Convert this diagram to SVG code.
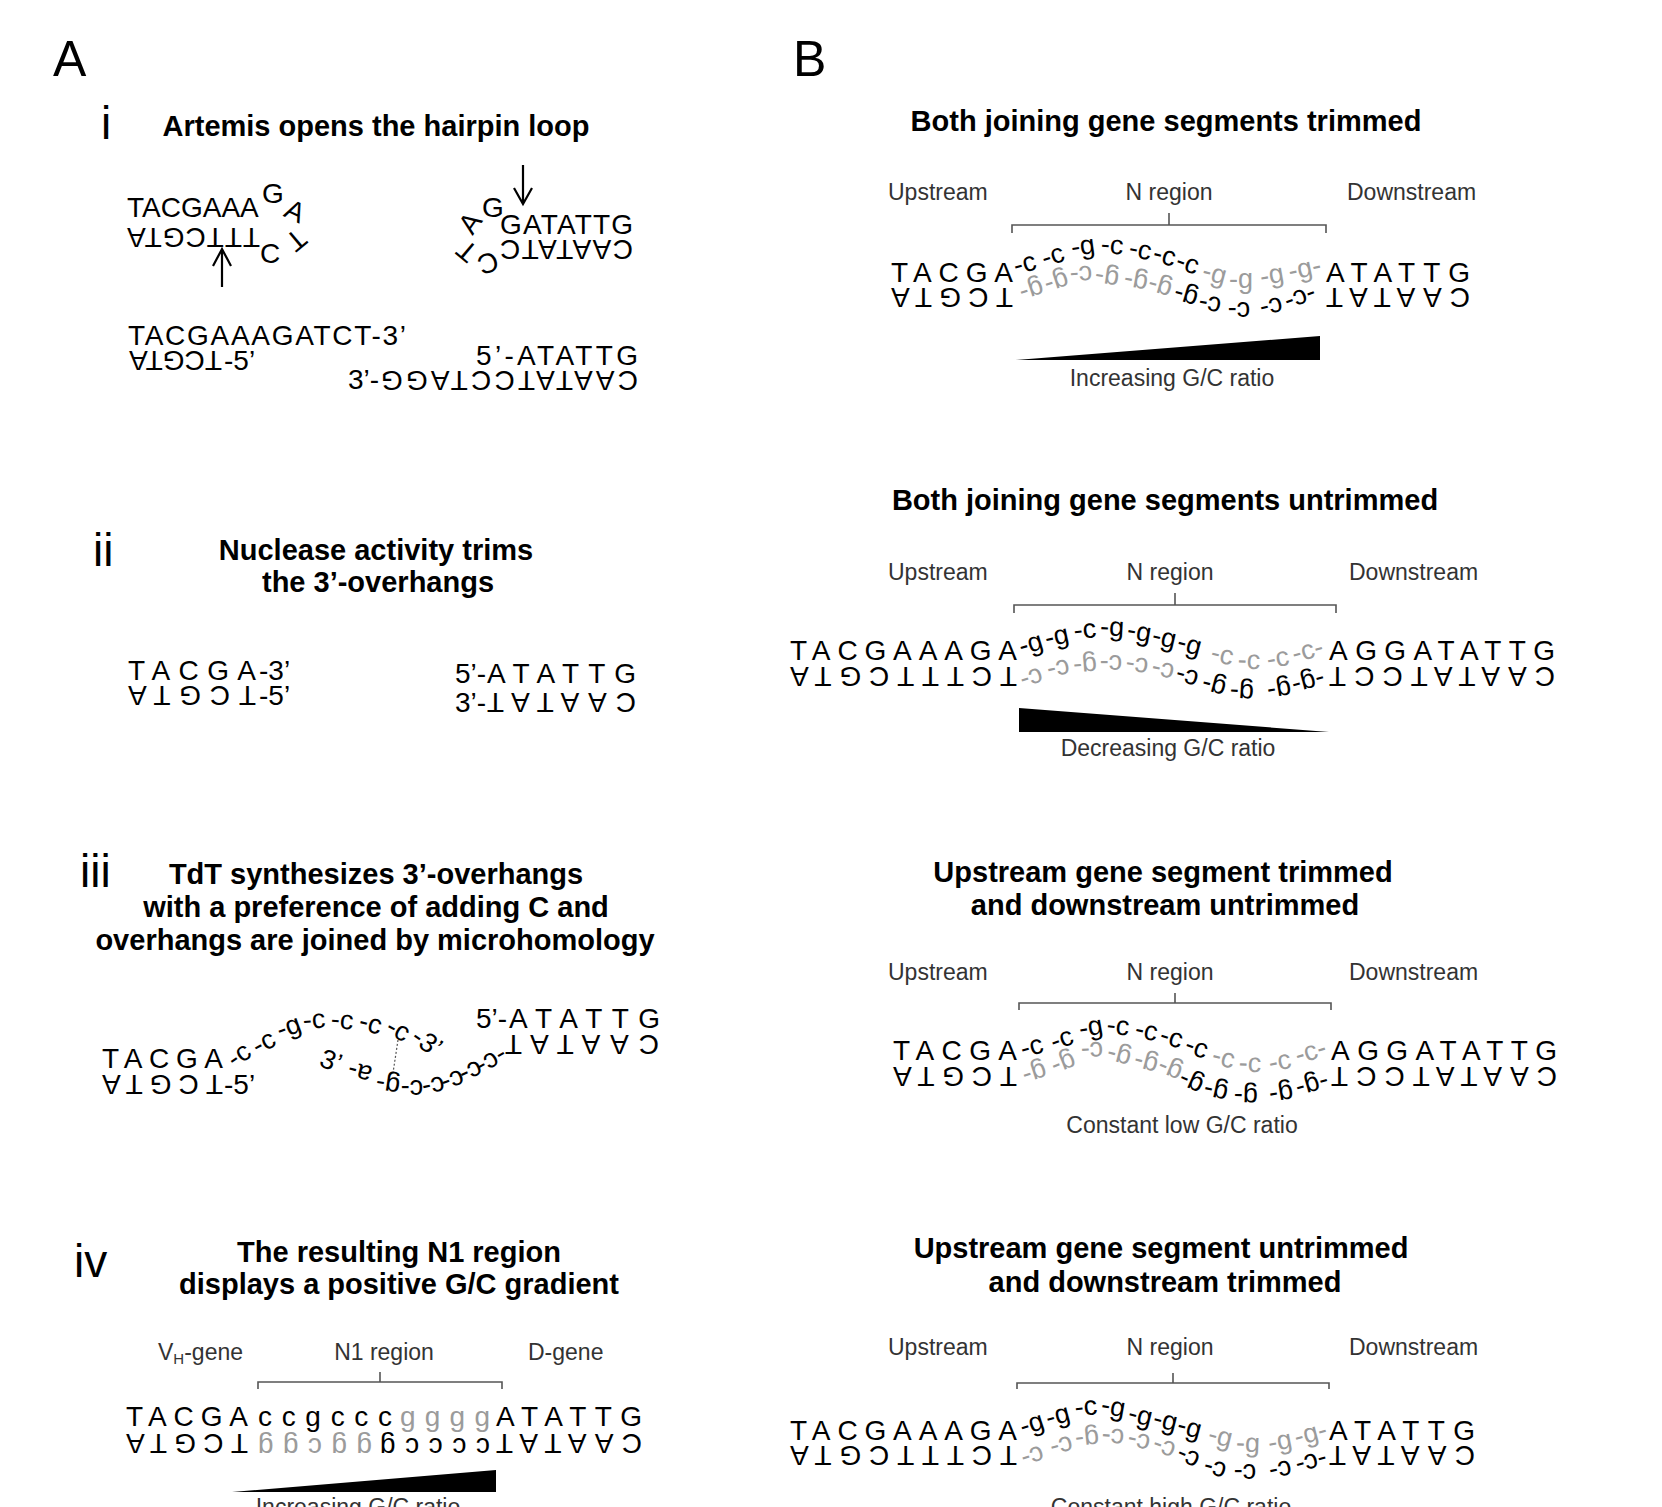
<svg xmlns="http://www.w3.org/2000/svg" width="1662" height="1507" viewBox="0 0 1662 1507">
<style>
text{font-family:"Liberation Sans",Arial,sans-serif;fill:#000}
.s{font-size:28px}
.r{font-size:28px;text-anchor:middle;dominant-baseline:central}
.w{font-size:27px;text-anchor:middle;dominant-baseline:central}
.g{fill:#9b9b9b}
.t{font-size:29px;font-weight:bold;text-anchor:middle}
.l{font-size:23px;fill:#333}
.lm{font-size:23px;fill:#333;text-anchor:middle}
.n{font-size:46px}
.big{font-size:50px}
.br{fill:none;stroke:#555;stroke-width:1.6}
.ar{fill:none;stroke:#000;stroke-width:2.2}
.dot{stroke:#555;stroke-width:1.2;stroke-dasharray:2 2}
</style>
<rect width="1662" height="1507" fill="#fff"/>
<text class="big" x="53" y="76">A</text>
<text class="big" x="793" y="76">B</text>

<g id="A-i">
<text class="n" x="101" y="139">i</text>
<text class="t" x="376" y="136">Artemis opens the hairpin loop</text>
<text class="s" x="127" y="217">TACGAAA</text>
<text class="s" x="262" y="203">G</text>
<text class="r" transform="translate(295 211) rotate(25)">A</text>
<text class="r" x="193.5" y="237" textLength="133" lengthAdjust="spacing" transform="rotate(180 193.5 237)">TTTCGTA</text>
<text class="r" transform="translate(296 240) rotate(140)">T</text>
<text class="r" transform="translate(270 253)">C</text>
<text class="r" transform="translate(470 223) rotate(-55)">A</text>
<text class="s" x="482" y="217">G</text>
<text class="s" x="500" y="234" textLength="133" lengthAdjust="spacing">GATATTG</text>
<text class="r" transform="translate(467 251) rotate(-140)">T</text>
<text class="r" transform="translate(488 263) rotate(160)">C</text>
<text class="r" x="566.5" y="249" textLength="133" lengthAdjust="spacing" transform="rotate(180 566.5 249)">CAATATC</text>
<text class="s" x="128" y="345" textLength="278" lengthAdjust="spacing">TACGAAAGATCT-3’</text>
<text class="r" x="175.5" y="360" transform="rotate(180 175.5 360)">TCGTA</text>
<text class="s" x="224" y="370">-5’</text>
<text class="s" x="476" y="365" textLength="162" lengthAdjust="spacing">5’-ATATTG</text>
<text class="s" x="348" y="389">3’-</text>
<text class="r" x="509.5" y="380" textLength="257" lengthAdjust="spacing" transform="rotate(180 509.5 380)">CAATATCCTAGG</text>
</g>

<g id="A-ii">
<text class="n" x="93" y="566">ii</text>
<text class="t" x="376" y="560">Nuclease activity trims</text>
<text class="t" x="378" y="592">the 3’-overhangs</text>
<text class="s" x="128" y="680" textLength="128" lengthAdjust="spacing">TACGA</text>
<text class="s" x="259" y="680">-3’</text>
<text class="r" x="192" y="695" textLength="128" lengthAdjust="spacing" transform="rotate(180 192 695)">TCGTA</text>
<text class="s" x="259" y="705">-5’</text>
<text class="s" x="455" y="683">5’-</text>
<text class="s" x="487" y="683" textLength="149" lengthAdjust="spacing">ATATTG</text>
<text class="s" x="455" y="712">3’-</text>
<text class="r" x="561.5" y="702" textLength="149" lengthAdjust="spacing" transform="rotate(180 561.5 702)">CAATAT</text>
</g>

<g id="A-iii">
<text class="n" x="80" y="887">iii</text>
<text class="t" x="376" y="884">TdT synthesizes 3’-overhangs</text>
<text class="t" x="376" y="917">with a preference of adding C and</text>
<text class="t" x="375" y="950">overhangs are joined by microhomology</text>
<text class="s" x="102" y="1068" textLength="121" lengthAdjust="spacing">TACGA</text>
<text class="r" x="162.5" y="1084" textLength="121" lengthAdjust="spacing" transform="rotate(180 162.5 1084)">TCGTA</text>
<text class="s" x="224" y="1094">-5’</text>
<text class="w" transform="translate(243 1054) rotate(-35)" x="-4" y="-2">-c</text>
<text class="w" transform="translate(268 1042) rotate(-28)" x="-4" y="-2">-c</text>
<text class="w" transform="translate(293 1027) rotate(-20)" x="-4" y="-2">-g</text>
<text class="w" transform="translate(318 1021) rotate(-5)" x="-4" y="-2">-c</text>
<text class="w" transform="translate(346 1022) rotate(5)" x="-4" y="-2">-c</text>
<text class="w" transform="translate(374 1026) rotate(15)" x="-4" y="-2">-c</text>
<text class="w" transform="translate(401 1033) rotate(28)" x="-4" y="-2">-c</text>
<text class="w" transform="translate(427 1042) rotate(35)">-3’</text>
<line class="dot" x1="398" y1="1040" x2="393" y2="1073"/>
<text class="w" transform="translate(331 1061) rotate(20)">3’</text>
<text class="w" transform="translate(364 1072) rotate(195)" x="4" y="-2">a-</text>
<text class="w" transform="translate(392 1084) rotate(188)" x="4" y="-2">g-</text>
<text class="w" transform="translate(416 1087) rotate(180)" x="4" y="-2">c-</text>
<text class="w" transform="translate(437 1084) rotate(168)" x="4" y="-2">c-</text>
<text class="w" transform="translate(456 1078) rotate(160)" x="4" y="-2">c-</text>
<text class="w" transform="translate(474 1069) rotate(155)" x="4" y="-2">c-</text>
<text class="w" transform="translate(491 1060) rotate(150)" y="-2">-c-</text>
<text class="s" x="476" y="1028">5’-</text>
<text class="s" x="509" y="1028" textLength="151" lengthAdjust="spacing">ATATTG</text>
<text class="r" x="582" y="1044" textLength="154" lengthAdjust="spacing" transform="rotate(180 582 1044)">CAATAT</text>
</g>

<g id="A-iv">
<text class="n" x="74" y="1277">iv</text>
<text class="t" x="399" y="1262">The resulting N1 region</text>
<text class="t" x="399" y="1294">displays a positive G/C gradient</text>
<text class="l" x="158" y="1360">V<tspan font-size="15" dy="4">H</tspan><tspan dy="-4">-gene</tspan></text>
<text class="lm" x="384" y="1360">N1 region</text>
<text class="l" x="528" y="1360">D-gene</text>
<path class="br" d="M258 1389V1382H502V1389M380 1382V1372"/>
<text class="s" x="126" y="1426" textLength="122" lengthAdjust="spacing">TACGA</text>
<text class="s" x="258" y="1426" textLength="134" lengthAdjust="spacing">ccgccc</text>
<text class="s g" x="400" y="1426" textLength="90" lengthAdjust="spacing">gggg</text>
<text class="s" x="496" y="1426" textLength="146" lengthAdjust="spacing">ATATTG</text>
<text class="r" x="187" y="1443" textLength="122" lengthAdjust="spacing" transform="rotate(180 187 1443)">TCGTA</text>
<text class="r g" x="315" y="1447" textLength="114" lengthAdjust="spacing" transform="rotate(180 315 1447)">ggcgg</text>
<text class="r" x="435" y="1447" textLength="110" lengthAdjust="spacing" transform="rotate(180 435 1447)">ccccg</text>
<text class="r" x="569" y="1443" textLength="146" lengthAdjust="spacing" transform="rotate(180 569 1443)">CAATAT</text>
<polygon points="232,1492 496,1470 496,1492"/>
<text class="lm" x="358" y="1515">Increasing G/C ratio</text>
</g>

<g id="B-1">
<text class="t" x="1166" y="131">Both joining gene segments trimmed</text>
<text class="l" x="888" y="200">Upstream</text>
<text class="lm" x="1169" y="200">N region</text>
<text class="l" x="1347" y="200">Downstream</text>
<path class="br" d="M1012 233V225H1326V233M1169 225V213"/>
<text class="s" x="891" y="282" textLength="122" lengthAdjust="spacing">TACGA</text>
<text class="r" x="952" y="297" textLength="122" lengthAdjust="spacing" transform="rotate(180 952 297)">TCGTA</text>
<text class="s" x="1326" y="282" textLength="144" lengthAdjust="spacing">ATATTG</text>
<text class="r" x="1398" y="297" textLength="144" lengthAdjust="spacing" transform="rotate(180 1398 297)">CAATAT</text>
<text class="w" transform="translate(1029 264) rotate(-15)" x="-4" y="-2">-c</text>
<text class="w" transform="translate(1057 256) rotate(-18)" x="-4" y="-2">-c</text>
<text class="w" transform="translate(1087 247) rotate(-8)" x="-4" y="-2">-g</text>
<text class="w" transform="translate(1116 247) rotate(5)" x="-4" y="-2">-c</text>
<text class="w" transform="translate(1144 252) rotate(11)" x="-4" y="-2">-c</text>
<text class="w" transform="translate(1168 258) rotate(15)" x="-4" y="-2">-c</text>
<text class="w" transform="translate(1191 266) rotate(19)" x="-4" y="-2">-c</text>
<text class="w g" transform="translate(1218 276) rotate(15)" x="-4" y="-2">-g</text>
<text class="w g" transform="translate(1245 281) rotate(0)" x="-4" y="-2">-g</text>
<text class="w g" transform="translate(1276 276) rotate(-10)" x="-4" y="-2">-g</text>
<text class="w g" transform="translate(1305 270) rotate(-12)" y="-2">-g-</text>
<text class="w g" transform="translate(1035 288) rotate(162)" x="4" y="-2">g-</text>
<text class="w g" transform="translate(1060 280) rotate(162)" x="4" y="-2">g-</text>
<text class="w g" transform="translate(1085 273) rotate(176)" x="4" y="-2">c-</text>
<text class="w g" transform="translate(1111 277) rotate(188)" x="4" y="-2">g-</text>
<text class="w g" transform="translate(1140 281) rotate(190)" x="4" y="-2">g-</text>
<text class="w g" transform="translate(1164 287) rotate(196)" x="4" y="-2">g-</text>
<text class="w" transform="translate(1190 296) rotate(196)" x="4" y="-2">g-</text>
<text class="w" transform="translate(1214 304) rotate(190)" x="4" y="-2">c-</text>
<text class="w" transform="translate(1243 309) rotate(180)" x="4" y="-2">c-</text>
<text class="w" transform="translate(1275 305) rotate(167)" x="4" y="-2">c-</text>
<text class="w" transform="translate(1300 297) rotate(160)" y="-2">-c-</text>
<polygon points="1016,360 1320,336 1320,360"/>
<text class="lm" x="1172" y="386">Increasing G/C ratio</text>
</g>

<g id="B-2">
<text class="t" x="1165" y="510">Both joining gene segments untrimmed</text>
<text class="l" x="888" y="580">Upstream</text>
<text class="lm" x="1170" y="580">N region</text>
<text class="l" x="1349" y="580">Downstream</text>
<path class="br" d="M1014 613V605H1336V613M1175 605V593"/>
<text class="s" x="790" y="660" textLength="227" lengthAdjust="spacing">TACGAAAGA</text>
<text class="r" x="903.5" y="676" textLength="227" lengthAdjust="spacing" transform="rotate(180 903.5 676)">TCTTTCGTA</text>
<text class="s" x="1329" y="660" textLength="226" lengthAdjust="spacing">AGGATATTG</text>
<text class="r" x="1442" y="676" textLength="226" lengthAdjust="spacing" transform="rotate(180 1442 676)">CAATATCCT</text>
<text class="w" transform="translate(1035 644) rotate(-17)" x="-4" y="-2">-g</text>
<text class="w" transform="translate(1061 637) rotate(-12)" x="-4" y="-2">-g</text>
<text class="w" transform="translate(1089 631) rotate(-6)" x="-4" y="-2">-c</text>
<text class="w" transform="translate(1116 629) rotate(3)" x="-4" y="-2">-g</text>
<text class="w" transform="translate(1143 634) rotate(10)" x="-4" y="-2">-g</text>
<text class="w" transform="translate(1168 640) rotate(13)" x="-4" y="-2">-g</text>
<text class="w" transform="translate(1193 647) rotate(15)" x="-4" y="-2">-g</text>
<text class="w g" transform="translate(1226 657) rotate(13)" x="-4" y="-2">-c</text>
<text class="w g" transform="translate(1253 662) rotate(2)" x="-4" y="-2">-c</text>
<text class="w g" transform="translate(1282 659) rotate(-10)" x="-4" y="-2">-c</text>
<text class="w g" transform="translate(1308 652) rotate(-15)" y="-2">-c-</text>
<text class="w g" transform="translate(1035 676) rotate(162)" x="4" y="-2">c-</text>
<text class="w g" transform="translate(1062 667) rotate(168)" x="4" y="-2">c-</text>
<text class="w g" transform="translate(1089 664) rotate(175)" x="4" y="-2">g-</text>
<text class="w g" transform="translate(1115 662) rotate(180)" x="4" y="-2">c-</text>
<text class="w g" transform="translate(1141 665) rotate(188)" x="4" y="-2">c-</text>
<text class="w g" transform="translate(1167 670) rotate(192)" x="4" y="-2">c-</text>
<text class="w" transform="translate(1191 677) rotate(196)" x="4" y="-2">c-</text>
<text class="w" transform="translate(1218 686) rotate(195)" x="4" y="-2">g-</text>
<text class="w" transform="translate(1246 691) rotate(183)" x="4" y="-2">g-</text>
<text class="w" transform="translate(1283 688) rotate(170)" x="4" y="-2">g-</text>
<text class="w" transform="translate(1308 681) rotate(165)" y="-2">-g-</text>
<polygon points="1019,708 1019,732 1329,732"/>
<text class="lm" x="1168" y="756">Decreasing G/C ratio</text>
</g>

<g id="B-3">
<text class="t" x="1163" y="882">Upstream gene segment trimmed</text>
<text class="t" x="1165" y="915">and downstream untrimmed</text>
<text class="l" x="888" y="980">Upstream</text>
<text class="lm" x="1170" y="980">N region</text>
<text class="l" x="1349" y="980">Downstream</text>
<path class="br" d="M1019 1010V1003H1331V1010M1175 1003V993"/>
<text class="s" x="893" y="1060" textLength="124" lengthAdjust="spacing">TACGA</text>
<text class="r" x="955" y="1076" textLength="124" lengthAdjust="spacing" transform="rotate(180 955 1076)">TCGTA</text>
<text class="s" x="1331" y="1060" textLength="226" lengthAdjust="spacing">AGGATATTG</text>
<text class="r" x="1444" y="1076" textLength="226" lengthAdjust="spacing" transform="rotate(180 1444 1076)">CAATATCCT</text>
<text class="w" transform="translate(1036 1047) rotate(-15)" x="-4" y="-2">-c</text>
<text class="w" transform="translate(1066 1039) rotate(-20)" x="-4" y="-2">-c</text>
<text class="w" transform="translate(1095 1028) rotate(-10)" x="-4" y="-2">-g</text>
<text class="w" transform="translate(1122 1028) rotate(6)" x="-4" y="-2">-c</text>
<text class="w" transform="translate(1150 1033) rotate(12)" x="-4" y="-2">-c</text>
<text class="w" transform="translate(1175 1040) rotate(17)" x="-4" y="-2">-c</text>
<text class="w" transform="translate(1200 1050) rotate(20)" x="-4" y="-2">-c</text>
<text class="w g" transform="translate(1227 1060) rotate(15)" x="-4" y="-2">-c</text>
<text class="w g" transform="translate(1254 1065) rotate(2)" x="-4" y="-2">-c</text>
<text class="w g" transform="translate(1284 1062) rotate(-12)" x="-4" y="-2">-c</text>
<text class="w g" transform="translate(1311 1053) rotate(-17)" y="-2">-c-</text>
<text class="w g" transform="translate(1038 1071) rotate(162)" x="4" y="-2">g-</text>
<text class="w g" transform="translate(1067 1061) rotate(158)" x="4" y="-2">g-</text>
<text class="w g" transform="translate(1096 1049) rotate(177)" x="4" y="-2">c-</text>
<text class="w g" transform="translate(1123 1056) rotate(195)" x="4" y="-2">g-</text>
<text class="w g" transform="translate(1150 1063) rotate(195)" x="4" y="-2">g-</text>
<text class="w g" transform="translate(1174 1070) rotate(202)" x="4" y="-2">g-</text>
<text class="w" transform="translate(1195 1083) rotate(204)" x="4" y="-2">g-</text>
<text class="w" transform="translate(1220 1091) rotate(192)" x="4" y="-2">g-</text>
<text class="w" transform="translate(1250 1095) rotate(181)" x="4" y="-2">g-</text>
<text class="w" transform="translate(1285 1092) rotate(170)" x="4" y="-2">g-</text>
<text class="w" transform="translate(1312 1084) rotate(164)" y="-2">-g-</text>
<text class="lm" x="1182" y="1133">Constant low G/C ratio</text>
</g>

<g id="B-4">
<text class="t" x="1161" y="1258">Upstream gene segment untrimmed</text>
<text class="t" x="1165" y="1292">and downstream trimmed</text>
<text class="l" x="888" y="1355">Upstream</text>
<text class="lm" x="1170" y="1355">N region</text>
<text class="l" x="1349" y="1355">Downstream</text>
<path class="br" d="M1017 1389V1383H1329V1389M1173 1383V1373"/>
<text class="s" x="790" y="1440" textLength="227" lengthAdjust="spacing">TACGAAAGA</text>
<text class="r" x="903.5" y="1455" textLength="227" lengthAdjust="spacing" transform="rotate(180 903.5 1455)">TCTTTCGTA</text>
<text class="s" x="1329" y="1440" textLength="146" lengthAdjust="spacing">ATATTG</text>
<text class="r" x="1402" y="1455" textLength="146" lengthAdjust="spacing" transform="rotate(180 1402 1455)">CAATAT</text>
<text class="w" transform="translate(1036 1424) rotate(-18)" x="-4" y="-2">-g</text>
<text class="w" transform="translate(1062 1416) rotate(-15)" x="-4" y="-2">-g</text>
<text class="w" transform="translate(1090 1408) rotate(-6)" x="-4" y="-2">-c</text>
<text class="w" transform="translate(1117 1409) rotate(10)" x="-4" y="-2">-g</text>
<text class="w" transform="translate(1144 1418) rotate(14)" x="-4" y="-2">-g</text>
<text class="w" transform="translate(1169 1423) rotate(14)" x="-4" y="-2">-g</text>
<text class="w" transform="translate(1193 1430) rotate(15)" x="-4" y="-2">-g</text>
<text class="w g" transform="translate(1224 1439) rotate(14)" x="-4" y="-2">-g</text>
<text class="w g" transform="translate(1252 1445) rotate(2)" x="-4" y="-2">-g</text>
<text class="w g" transform="translate(1284 1442) rotate(-11)" x="-4" y="-2">-g</text>
<text class="w g" transform="translate(1311 1435) rotate(-15)" y="-2">-g-</text>
<text class="w g" transform="translate(1036 1454) rotate(162)" x="4" y="-2">c-</text>
<text class="w g" transform="translate(1065 1444) rotate(165)" x="4" y="-2">c-</text>
<text class="w g" transform="translate(1091 1437) rotate(174)" x="4" y="-2">g-</text>
<text class="w g" transform="translate(1117 1436) rotate(184)" x="4" y="-2">c-</text>
<text class="w g" transform="translate(1143 1441) rotate(192)" x="4" y="-2">c-</text>
<text class="w g" transform="translate(1168 1448) rotate(200)" x="4" y="-2">c-</text>
<text class="w" transform="translate(1192 1458) rotate(204)" x="4" y="-2">c-</text>
<text class="w" transform="translate(1219 1469) rotate(195)" x="4" y="-2">c-</text>
<text class="w" transform="translate(1249 1471) rotate(180)" x="4" y="-2">c-</text>
<text class="w" transform="translate(1284 1468) rotate(168)" x="4" y="-2">c-</text>
<text class="w" transform="translate(1311 1461) rotate(165)" y="-2">-c-</text>
<text class="lm" x="1171" y="1515">Constant high G/C ratio</text>
</g>

<g id="connectors">
<path class="ar" d="M222 287V249M213 266L222 249L231 266"/>
<path class="ar" d="M523 165V204M514 188L523 204L532 188"/>
</g>
</svg>
